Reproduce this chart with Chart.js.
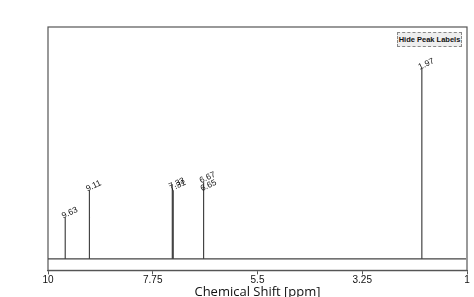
<!DOCTYPE html>
<html>
<head>
<meta charset="utf-8">
<script src="https://cdn.jsdelivr.net/npm/chart.js@4/dist/chart.umd.min.js"></script>
<style>
html,body{margin:0;padding:0;background:#fff;overflow:hidden;width:474px;height:297px;}
#wrap{position:relative;width:474px;height:300px;}
#btn{position:absolute;left:397px;top:32px;width:65px;height:15px;border:1px dashed #888;background:#eee;white-space:nowrap;
font:bold 7.5px "Liberation Sans",Arial,sans-serif;color:#111;text-align:center;line-height:13px;box-sizing:border-box;}
</style>
</head>
<body>
<div id="wrap">
<canvas id="c" width="474" height="300"></canvas>
<div id="btn">Hide Peak Labels</div>
</div>
<script>
const peakShifts = [9.63, 9.11, 7.33, 7.31, 6.67, 6.65, 1.97];
const peakHeights = [0.178, 0.295, 0.304, 0.296, 0.33, 0.296, 0.82];
const peakLabels = ["9.63", "9.11", "7.33", "7.31", "6.67", "6.65", "1.97"];
const tickValues = [10, 7.75, 5.5, 3.25, 1];
const tickLabels = ["10", "7.75", "5.5", "3.25", "1"];
const axisTitle = "Chemical Shift [ppm]";
const xStart = 10, xEnd = 1.02;

// build stick spectrum line: baseline plus vertical sticks
const pts = [{x: xStart, y: 0}];
peakShifts.forEach((s, i) => {
  pts.push({x: s, y: 0});
  pts.push({x: s, y: peakHeights[i]});
  pts.push({x: s, y: 0});
});
pts.push({x: xEnd, y: 0});

const labelPlugin = {
  id: 'peakLabels',
  afterDatasetsDraw(chart) {
    const {ctx, scales: {x, y}} = chart;
    ctx.save();
    ctx.font = '8.5px "Liberation Sans", Arial, sans-serif';
    ctx.fillStyle = '#111';
    ctx.textBaseline = 'alphabetic';
    peakShifts.forEach((s, i) => {
      const px = x.getPixelForValue(s) - 2;
      const py = y.getPixelForValue(peakHeights[i]) + 1;
      ctx.save();
      ctx.translate(px, py);
      ctx.rotate(-25 * Math.PI / 180);
      ctx.fillText(peakLabels[i], 0, 0);
      ctx.restore();
    });
    ctx.restore();
  }
};
const framePlugin = {
  id: 'frame',
  beforeDatasetsDraw(chart) {
    const {ctx, chartArea: a} = chart;
    ctx.save();
    ctx.strokeStyle = '#555';
    ctx.lineWidth = 1.2;
    ctx.strokeRect(a.left, a.top, a.right - a.left, a.bottom - a.top);
    ctx.restore();
  }
};

new Chart(document.getElementById('c'), {
  type: 'scatter',
  data: {
    datasets: [{
      data: pts,
      showLine: true,
      borderColor: '#444',
      borderWidth: 1.2,
      pointRadius: 0,
      tension: 0
    }]
  },
  options: {
    responsive: false,
    animation: false,
    layout: {padding: {left: 48, right: 7, top: 27, bottom: 0}},
    plugins: {legend: {display: false}, tooltip: {enabled: false}},
    scales: {
      x: {
        type: 'linear',
        reverse: true,
        min: 1, max: 10,
        afterBuildTicks(axis) { axis.ticks = tickValues.map(v => ({value: v})); },
        ticks: {
          autoSkip: false,
          maxRotation: 0,
          color: '#111',
          font: {size: 10, family: '"Liberation Sans", Arial, sans-serif'},
          padding: 0,
          callback(v) { const i = tickValues.indexOf(v); return i >= 0 ? tickLabels[i] : ''; }
        },
        grid: {display: true, drawOnChartArea: false, tickLength: 4, color: '#555'},
        border: {display: true, color: '#555', width: 1.2},
        title: {display: true, text: axisTitle, color: '#111', padding: {top: -2, bottom: 0},
          font: {size: 13, family: '"Open Sans", Arial, sans-serif'}}
      },
      y: {
        display: false,
        min: -0.05, max: 1.0
      }
    }
  },
  plugins: [framePlugin, labelPlugin]
});
</script>
</body>
</html>
